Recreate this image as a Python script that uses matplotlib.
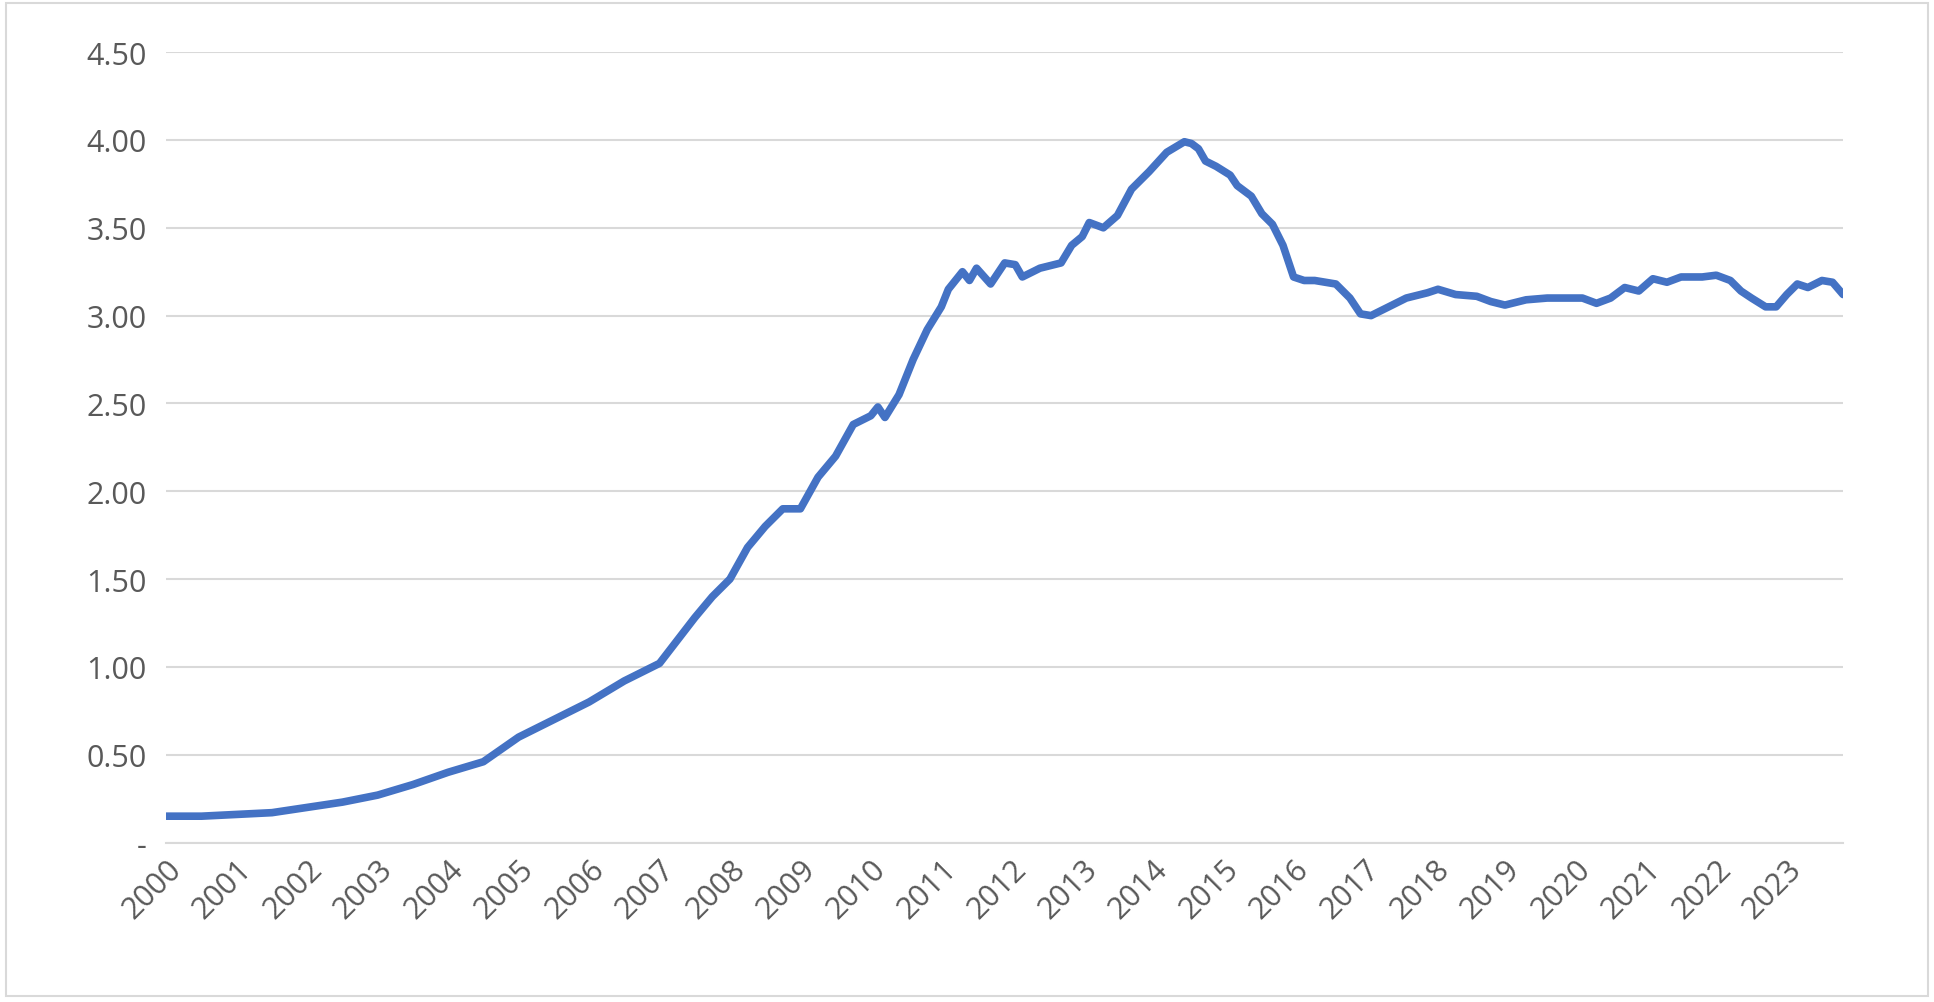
import matplotlib
matplotlib.use("Agg")
import matplotlib.pyplot as plt
from matplotlib.patches import Rectangle

# valores (ano decimal, valor)
t = [2000.0, 2000.5, 2001.0, 2001.5, 2002.0, 2002.5, 2003.0, 2003.5, 2004.0, 2004.5,
     2005.0, 2005.5, 2006.0, 2006.5, 2007.0, 2007.25, 2007.5, 2007.75, 2008.0, 2008.25,
     2008.5, 2008.75, 2009.0, 2009.25, 2009.5, 2009.75, 2010.0, 2010.1, 2010.2, 2010.4,
     2010.6, 2010.8, 2011.0, 2011.1, 2011.3, 2011.4, 2011.5, 2011.7, 2011.9, 2012.05,
     2012.15, 2012.4, 2012.7, 2012.85, 2013.0, 2013.1, 2013.3, 2013.5, 2013.7, 2013.95,
     2014.2, 2014.45, 2014.55, 2014.65, 2014.75, 2014.9, 2015.1, 2015.2, 2015.4, 2015.55,
     2015.7, 2015.85, 2016.0, 2016.15, 2016.3, 2016.6, 2016.8, 2016.95, 2017.1, 2017.35,
     2017.6, 2017.9, 2018.05, 2018.3, 2018.6, 2018.8, 2019.0, 2019.3, 2019.6, 2019.9,
     2020.1, 2020.3, 2020.5, 2020.7, 2020.9, 2021.1, 2021.3, 2021.5, 2021.8, 2022.0,
     2022.2, 2022.35, 2022.5, 2022.7, 2022.85, 2023.0, 2023.15, 2023.3, 2023.5, 2023.65,
     2023.8]
v = [0.15, 0.15, 0.16, 0.17, 0.20, 0.23, 0.27, 0.33, 0.40, 0.46,
     0.60, 0.70, 0.80, 0.92, 1.02, 1.15, 1.28, 1.40, 1.50, 1.68,
     1.80, 1.90, 1.90, 2.08, 2.20, 2.38, 2.43, 2.48, 2.42, 2.55,
     2.75, 2.92, 3.05, 3.15, 3.25, 3.20, 3.27, 3.18, 3.30, 3.29,
     3.22, 3.27, 3.30, 3.40, 3.45, 3.53, 3.50, 3.57, 3.72, 3.82,
     3.93, 3.99, 3.98, 3.95, 3.88, 3.85, 3.80, 3.74, 3.68, 3.58,
     3.52, 3.40, 3.22, 3.20, 3.20, 3.18, 3.10, 3.01, 3.00, 3.05,
     3.10, 3.13, 3.15, 3.12, 3.11, 3.08, 3.06, 3.09, 3.10, 3.10,
     3.10, 3.07, 3.10, 3.16, 3.14, 3.21, 3.19, 3.22, 3.22, 3.23,
     3.20, 3.14, 3.10, 3.05, 3.05, 3.12, 3.18, 3.16, 3.20, 3.19,
     3.12]
anos = list(range(2000, 2024))
yticks = [0, 0.5, 1.0, 1.5, 2.0, 2.5, 3.0, 3.5, 4.0, 4.5]
ylabels = ["-"] + ["%.2f" % y for y in yticks[1:]]

plt.rcParams["font.family"] = ["Open Sans", "DejaVu Sans"]
fig = plt.figure(figsize=(19.34, 10.03), dpi=100)
fig.patches.append(Rectangle((0.003, 0.006), 0.994, 0.99, transform=fig.transFigure,
                             fill=False, edgecolor="#d9d9d9", linewidth=1.5))
ax = fig.add_axes([0.086, 0.159, 0.867, 0.788])
ax.plot(t, v, color="#4472C4", linewidth=5.5, solid_capstyle="round")
ax.set_xlim(2000, 2023.8)
ax.set_ylim(0, 4.5)
ax.set_yticks(yticks)
ax.set_yticklabels(ylabels)
ax.set_xticks(anos)
ax.set_xticklabels([str(a) for a in anos], rotation=45, ha="right", rotation_mode="anchor")
ax.grid(axis="y", color="#d9d9d9", linewidth=1.5)
ax.set_axisbelow(True)
for s in ("top", "right", "left"):
    ax.spines[s].set_visible(False)
ax.spines["bottom"].set_color("#d9d9d9")
ax.spines["bottom"].set_linewidth(1.5)
ax.tick_params(axis="both", length=0, labelsize=22, colors="#595959", pad=14)
ax.tick_params(axis="x", pad=8)
fig.savefig("out.png", dpi=100)
